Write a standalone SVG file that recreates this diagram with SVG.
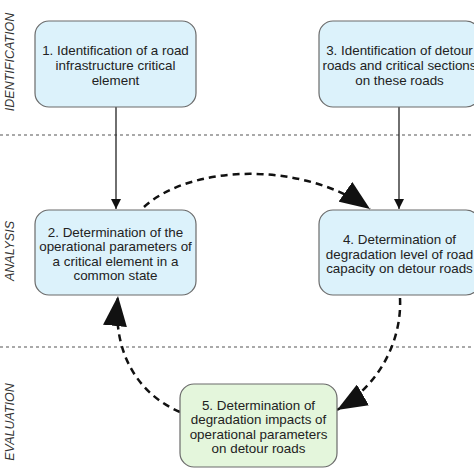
<svg xmlns="http://www.w3.org/2000/svg" width="474" height="474" viewBox="0 0 474 474">
<defs>
<style>
.box{fill:#dcf2fb;stroke:#6b6b6b;stroke-width:1.2}
.box5{fill:#e4f6dc;stroke:#6b6b6b;stroke-width:1.2}
.t{font-family:"Liberation Sans",Arial,sans-serif;font-size:13.4px;fill:#222;text-anchor:middle}
.side{font-family:"Liberation Sans",Arial,sans-serif;font-size:12.5px;font-style:italic;fill:#333;text-anchor:middle}
.sep{stroke:#555;stroke-width:1.2;stroke-dasharray:3 3;fill:none}
.solid{stroke:#222;stroke-width:1.3;fill:none}
.dash{stroke:#111;stroke-width:2.5;stroke-dasharray:7 5;fill:none}
</style>
<marker id="sm" viewBox="0 0 10 10" refX="10" refY="5" markerWidth="10" markerHeight="10" markerUnits="userSpaceOnUse" orient="auto">
<path d="M0,0 L10,5 L0,10 Z" fill="#111"/>
</marker>
<marker id="bm" viewBox="0 0 30 24" refX="30" refY="12" markerWidth="30" markerHeight="24" markerUnits="userSpaceOnUse" orient="auto">
<path d="M0,0 L30,12 L0,24 Z" fill="#111"/>
</marker>
</defs>
<line class="sep" x1="0" y1="135" x2="474" y2="135"/>
<line class="sep" x1="0" y1="347" x2="474" y2="347"/>
<text class="side" transform="translate(14,62) rotate(-90)">IDENTIFICATION</text>
<text class="side" transform="translate(14,251) rotate(-90)">ANALYSIS</text>
<text class="side" transform="translate(14,422) rotate(-90)">EVALUATION</text>
<g id="connectors">
<line class="solid" x1="116" y1="107" x2="116" y2="209" marker-end="url(#sm)"/>
<line class="solid" x1="399" y1="107" x2="399" y2="209" marker-end="url(#sm)"/>
<path class="dash" d="M144,207 C190,165 300,160 370,209" marker-end="url(#bm)"/>
<path class="dash" d="M400,298 C402,340 380,385 337,410" marker-end="url(#bm)"/>
<path class="dash" d="M180,412 C140,395 112,355 118,296" marker-end="url(#bm)"/>
</g>
<g id="node1">
<rect class="box" x="35" y="21" width="161" height="86" rx="14"/>
<text class="t" x="115.5" y="54.5">1. Identification of a road</text>
<text class="t" x="115.5" y="69.5">infrastructure critical</text>
<text class="t" x="115.5" y="84.5">element</text>
</g>
<g id="node3">
<rect class="box" x="319" y="21" width="161" height="86" rx="14"/>
<text class="t" x="399.5" y="54.5">3. Identification of detour</text>
<text class="t" x="399.5" y="69.5">roads and critical sections</text>
<text class="t" x="399.5" y="84.5">on these roads</text>
</g>
<g id="node2">
<rect class="box" x="35" y="210" width="161" height="85" rx="14"/>
<text class="t" x="115.5" y="236.5">2. Determination of the</text>
<text class="t" x="115.5" y="251">operational parameters of</text>
<text class="t" x="115.5" y="265.5">a critical element in a</text>
<text class="t" x="115.5" y="280">common state</text>
</g>
<g id="node4">
<rect class="box" x="319" y="210" width="161" height="85" rx="14"/>
<text class="t" x="399.5" y="243.5">4. Determination of</text>
<text class="t" x="399.5" y="258.5">degradation level of road</text>
<text class="t" x="399.5" y="273">capacity on detour roads</text>
</g>
<g id="node5">
<rect class="box5" x="180" y="384" width="157" height="83" rx="14"/>
<text class="t" x="258.5" y="409.5">5. Determination of</text>
<text class="t" x="258.5" y="424">degradation impacts of</text>
<text class="t" x="258.5" y="438.5">operational parameters</text>
<text class="t" x="258.5" y="453">on detour roads</text>
</g>
</svg>
